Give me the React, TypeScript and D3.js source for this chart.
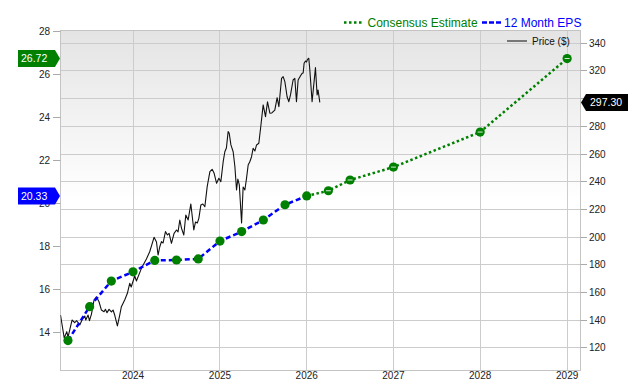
import React from 'react';
import * as d3 from 'd3';

// ---- data ----
const priceYears = [
  2023.164, 2023.207, 2023.236, 2023.251, 2023.297, 2023.328, 2023.351, 2023.386, 2023.412, 2023.444,
  2023.455, 2023.482, 2023.498, 2023.521, 2023.551, 2023.578, 2023.608, 2023.636, 2023.666, 2023.682,
  2023.700, 2023.724, 2023.751, 2023.770, 2023.789, 2023.820, 2023.847, 2023.866, 2023.904, 2023.935,
  2023.962, 2023.979, 2024.020, 2024.039, 2024.097, 2024.154, 2024.192, 2024.242, 2024.270, 2024.288,
  2024.308, 2024.327, 2024.346, 2024.373, 2024.396, 2024.415, 2024.442, 2024.472, 2024.500, 2024.518,
  2024.538, 2024.558, 2024.584, 2024.607, 2024.634, 2024.665, 2024.699, 2024.719, 2024.740, 2024.757,
  2024.780, 2024.803, 2024.826, 2024.853, 2024.884, 2024.910, 2024.933, 2024.961, 2024.987, 2025.010,
  2025.037, 2025.056, 2025.074, 2025.094, 2025.106, 2025.126, 2025.152, 2025.172, 2025.191, 2025.206,
  2025.223, 2025.249, 2025.267, 2025.287, 2025.306, 2025.325, 2025.344, 2025.364, 2025.382, 2025.402,
  2025.422, 2025.448, 2025.471, 2025.498, 2025.525, 2025.548, 2025.575, 2025.598, 2025.632, 2025.659,
  2025.679, 2025.710, 2025.728, 2025.748, 2025.774, 2025.794, 2025.813, 2025.843, 2025.863, 2025.882,
  2025.901, 2025.929, 2025.947, 2025.959, 2025.970, 2025.986, 2025.998, 2026.009, 2026.024, 2026.036,
  2026.062, 2026.101, 2026.120, 2026.131, 2026.151,
];
const priceValues = [
  143.8, 127.2, 131.8, 127.9, 140.2, 138.3, 139.7, 136.6, 140.2, 143.1,
  140.2, 143.8, 139.7, 144.5, 154.7, 157.0, 153.4, 147.4, 146.2, 147.9,
  145.5, 147.9, 146.0, 147.4, 143.8, 135.9, 143.8, 149.8, 154.7, 159.5,
  166.7, 164.0, 172.0, 168.4, 177.5, 184.3, 189.5, 199.9, 196.5, 187.1,
  193.1, 196.8, 195.8, 204.0, 201.6, 202.8, 195.6, 202.8, 205.2, 203.8,
  212.4, 206.4, 201.6, 216.0, 212.4, 224.0, 205.2, 211.0, 210.3, 213.6,
  223.2, 224.0, 222.0, 236.5, 247.3, 249.0, 246.1, 238.9, 242.5, 240.1,
  254.5, 261.7, 264.4, 276.2, 275.2, 266.6, 261.7, 250.9, 234.1, 242.0,
  237.7, 210.3, 236.2, 234.1, 242.5, 252.1, 254.5, 258.1, 264.2, 262.2,
  266.6, 267.8, 280.3, 295.5, 287.0, 297.8, 289.5, 289.7, 291.8, 300.7,
  294.2, 314.7, 315.9, 312.3, 301.4, 297.8, 302.7, 313.5, 314.7, 297.8,
  313.5, 316.6, 318.3, 318.6, 325.6, 327.2, 326.5, 328.4, 329.2, 320.7,
  297.8, 322.4, 302.7, 306.3, 297.3,
];

const epsYears = [2023.25, 2023.5, 2023.75, 2024.0, 2024.25, 2024.5, 2024.75, 2025.0, 2025.25, 2025.5, 2025.75, 2026.0];
const epsValues = [13.6, 15.18, 16.37, 16.8, 17.33, 17.35, 17.4, 18.23, 18.67, 19.21, 19.92, 20.33];

const consensusYears = [2026.0, 2026.25, 2026.5, 2027.0, 2028.0, 2029.0];
const consensusValues = [20.33, 20.57, 21.07, 21.67, 23.3, 26.72];

const yearTicks = [2024, 2025, 2026, 2027, 2028, 2029];
const epsTicks = [14, 16, 18, 20, 22, 24, 26, 28];
const priceTicks = [120, 140, 160, 180, 200, 220, 240, 260, 280, 300, 320, 340];

const lastPriceLabel = '297.30';
const lastEpsLabel = '20.33';
const lastConsensusLabel = '26.72';

const legendConsensus = 'Consensus Estimate';
const legendEps = '12 Month EPS';
const legendPrice = 'Price ($)';

// ---- helpers ----
function yearToDate(y: number): Date {
  const yr = Math.floor(y);
  const s = Date.UTC(yr, 0, 1);
  const e = Date.UTC(yr + 1, 0, 1);
  return new Date(s + (y - yr) * (e - s));
}

const W = 640;
const H = 380;
const L = 60.5;
const R = 580.5;
const T = 30.5;
const B = 370.5;

const FONT = '"Liberation Sans", Arial, Helvetica, sans-serif';
const GREEN = '#008000';
const BLUE = '#0000ff';

export default function App() {
  const x = d3.scaleTime().domain([yearToDate(2023.164), yearToDate(2029.154)]).range([L, R]);
  const yL = d3.scaleLinear().domain([12.233, 28.047]).range([370, 30]);
  const yR = d3.scaleLinear().domain([104.1, 349.6]).range([370, 30]);

  const price = priceYears.map((t, i) => ({ d: yearToDate(t), v: priceValues[i] }));
  const eps = epsYears.map((t, i) => ({ d: yearToDate(t), v: epsValues[i] }));
  const cons = consensusYears.map((t, i) => ({ d: yearToDate(t), v: consensusValues[i] }));

  const priceLine = d3.line<{ d: Date; v: number }>().x((p) => x(p.d)).y((p) => yR(p.v));
  const epsLine = d3.line<{ d: Date; v: number }>().x((p) => x(p.d)).y((p) => yL(p.v));

  const crisp = (v: number) => Math.round(v - 0.5) + 0.5;

  const lastEpsY = yL(epsValues[epsValues.length - 1]);
  const lastConsY = yL(consensusValues[consensusValues.length - 1]);
  const lastPriceY = yR(priceValues[priceValues.length - 1]);

  const leftFlag = (cy: number) =>
    `M18 ${cy - 8.5} H55 L60 ${cy} L55 ${cy + 8.5} H18 Z`;
  const rightFlag = (cy: number) =>
    `M581 ${cy} L586 ${cy - 8.5} H628 V ${cy + 8.5} H586 Z`;

  return (
    <svg
      width={W}
      height={H}
      style={{ position: 'absolute', left: 0, top: 0 }}
      fontFamily={FONT}
    >
      <defs>
        <linearGradient id="bg" x1="0" y1="0" x2="0" y2="1">
          <stop offset="0" stopColor="#e4e4e4" />
          <stop offset="0.5" stopColor="#ffffff" />
          <stop offset="1" stopColor="#ffffff" />
        </linearGradient>
        <clipPath id="plotclip">
          <rect x={L} y={T} width={R - L} height={B - T} />
        </clipPath>
      </defs>
      <rect x={0} y={0} width={W} height={H} fill="#ffffff" />
      <rect x={L} y={T} width={R - L} height={B - T} fill="url(#bg)" />

      {/* horizontal grid (price axis) */}
      {priceTicks.map((t) => (
        <line key={'hg' + t} x1={L} x2={R} y1={crisp(yR(t))} y2={crisp(yR(t))} stroke="#cccccc" strokeWidth={1} />
      ))}
      {/* vertical grid (years) */}
      {yearTicks.map((t) => (
        <line key={'vg' + t} x1={crisp(x(yearToDate(t)))} x2={crisp(x(yearToDate(t)))} y1={T} y2={B} stroke="#cccccc" strokeWidth={1} />
      ))}
      {/* frame */}
      <rect x={L} y={T} width={R - L} height={B - T} fill="none" stroke="#c4c4c4" strokeWidth={1} />

      {/* left axis ticks */}
      {epsTicks.map((t) => (
        <g key={'lt' + t}>
          <line x1={53} x2={L} y1={crisp(yL(t))} y2={crisp(yL(t))} stroke="#aaaaaa" />
          <text x={50} y={yL(t)} dy="0.35em" textAnchor="end" fontSize={10} fill="#222">{t}</text>
        </g>
      ))}
      {/* right axis ticks */}
      {priceTicks.map((t) => (
        <g key={'rt' + t}>
          <line x1={R} x2={587} y1={crisp(yR(t))} y2={crisp(yR(t))} stroke="#aaaaaa" />
          <text x={589} y={yR(t)} dy="0.35em" textAnchor="start" fontSize={10} fill="#222">{t}</text>
        </g>
      ))}
      {/* bottom labels */}
      {yearTicks.map((t) => (
        <text key={'bt' + t} x={x(yearToDate(t))} y={379} textAnchor="middle" fontSize={10} fill="#222">{t}</text>
      ))}

      <g clipPath="url(#plotclip)">
        {/* price line */}
        <path d={priceLine(price) || ''} fill="none" stroke="#111" strokeWidth={1.1} strokeLinejoin="round" />
        {/* eps dashed */}
        <path d={epsLine(eps) || ''} fill="none" stroke={BLUE} strokeWidth={2.5} strokeDasharray="5,3" />
        {/* consensus dotted */}
        <path d={epsLine(cons) || ''} fill="none" stroke={GREEN} strokeWidth={2.5} strokeDasharray="2.5,2.5" />
        {/* circles */}
        {eps.map((p, i) => (
          <circle key={'ec' + i} cx={x(p.d)} cy={yL(p.v)} r={4.6} fill={GREEN} />
        ))}
        {cons.slice(1).map((p, i) => (
          <g key={'cc' + i}>
            <circle cx={x(p.d)} cy={yL(p.v)} r={4.6} fill={GREEN} />
            <line x1={x(p.d) - 2.5} x2={x(p.d) + 2.5} y1={yL(p.v)} y2={yL(p.v)} stroke="#d8ead8" strokeWidth={1} />
          </g>
        ))}
      </g>

      {/* value flags */}
      <path d={leftFlag(lastConsY)} fill={GREEN} />
      <text x={21} y={lastConsY} dy="0.36em" fontSize={10.5} fill="#fff">{lastConsensusLabel}</text>
      <path d={leftFlag(lastEpsY)} fill={BLUE} />
      <text x={21} y={lastEpsY} dy="0.36em" fontSize={10.5} fill="#fff">{lastEpsLabel}</text>
      <path d={rightFlag(lastPriceY)} fill="#000" />
      <text x={590} y={lastPriceY} dy="0.36em" fontSize={10.5} fill="#fff">{lastPriceLabel}</text>

      {/* legend */}
      <line x1={344} x2={362} y1={22.5} y2={22.5} stroke={GREEN} strokeWidth={2.5} strokeDasharray="2.5,2.5" />
      <text x={367.5} y={27} fontSize={12} fill={GREEN}>{legendConsensus}</text>
      <line x1={482} x2={502} y1={22.5} y2={22.5} stroke={BLUE} strokeWidth={2.5} strokeDasharray="5,2" />
      <text x={504} y={27} fontSize={12} fill={BLUE}>{legendEps}</text>
      <line x1={507} x2={527} y1={41} y2={41} stroke="#777" strokeWidth={2} />
      <text x={532} y={44.5} fontSize={10} fill="#111">{legendPrice}</text>
    </svg>
  );
}
